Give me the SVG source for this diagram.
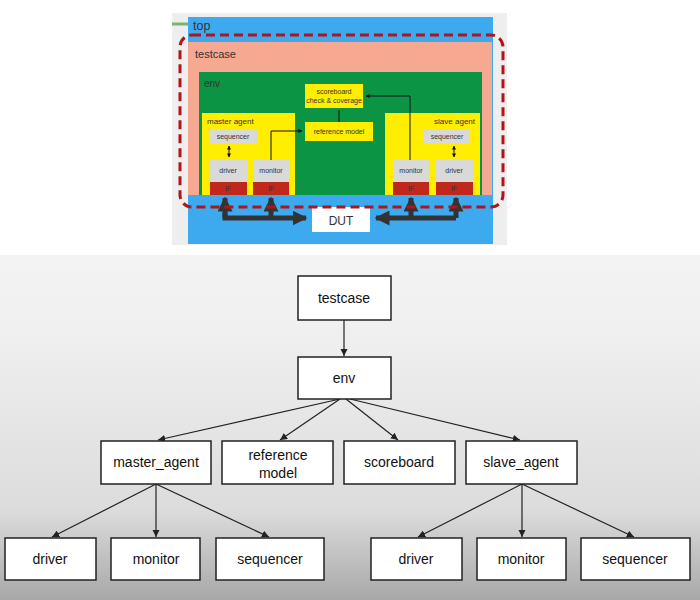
<svg xmlns="http://www.w3.org/2000/svg" width="700" height="600" viewBox="0 0 700 600">
<defs>
<linearGradient id="bg" x1="0" y1="0" x2="0" y2="1">
<stop offset="0" stop-color="#ffffff"/><stop offset="0.55" stop-color="#f0f0f0"/><stop offset="0.85" stop-color="#dcdcdc"/><stop offset="1" stop-color="#a8a8a8"/>
</linearGradient>
<marker id="ah" viewBox="0 0 10 10" refX="10" refY="5" markerWidth="6" markerHeight="6" orient="auto"><path d="M0,0 L10,5 L0,10 z" fill="#222"/></marker>
<marker id="tk" viewBox="0 0 10 10" refX="9" refY="5" markerWidth="3" markerHeight="3" orient="auto"><path d="M0,0 L10,5 L0,10 z" fill="#333"/></marker>
<marker id="sm" viewBox="0 0 10 10" refX="9" refY="5" markerWidth="4" markerHeight="4" orient="auto"><path d="M0,0 L10,5 L0,10 z" fill="#111"/></marker>
<marker id="sms" viewBox="0 0 10 10" refX="1" refY="5" markerWidth="4" markerHeight="4" orient="auto"><path d="M10,0 L0,5 L10,10 z" fill="#111"/></marker>
</defs>
<style>
.box{fill:#fff;stroke:#222;stroke-width:1.5}
.lbl{font-family:"Liberation Sans",Arial,sans-serif;font-size:14px;fill:#111;text-anchor:middle}
.c{stroke:#222;stroke-width:1.2;fill:none;marker-end:url(#ah)}
.g{fill:#d9d9d9}
.s{font-family:"Liberation Sans",Arial,sans-serif;font-size:7px;fill:#333;text-anchor:middle}
.t{font-family:"Liberation Sans",Arial,sans-serif;fill:#333}
.thk{stroke:#333;stroke-width:5;fill:none}
</style>
<rect width="700" height="600" fill="url(#bg)"/>
<rect x="0" y="0" width="700" height="255" fill="#fff"/>
<g id="screenshot">
<rect x="172" y="13" width="335" height="232" fill="#eeeeee"/>
<line x1="172" y1="24" x2="188" y2="24" stroke="#7ab56a" stroke-width="3"/>
<rect x="188" y="17" width="305" height="227" fill="#3daaf0"/>
<text x="193" y="30" class="t" font-size="12.5">top</text>
<rect x="188" y="42" width="304" height="153" fill="#f6a890"/>
<text x="195" y="58" class="t" font-size="11">testcase</text>
<rect x="199" y="72" width="283" height="123" fill="#0b9444"/>
<text x="204" y="87" class="t" font-size="10" fill="#063">env</text>
<rect x="202" y="113" width="93" height="82" fill="#ffee00"/>
<text x="207" y="124" class="t" font-size="8">master agent</text>
<rect x="385" y="113" width="95" height="82" fill="#ffee00"/>
<text x="475" y="124" class="t" font-size="8" text-anchor="end">slave agent</text>
<rect x="210" y="130" width="47" height="13" class="g"/><text x="233" y="139" class="s">sequencer</text>
<rect x="210" y="160" width="37" height="22" class="g"/><text x="228" y="173" class="s">driver</text>
<rect x="253" y="160" width="36" height="22" class="g"/><text x="271" y="173" class="s">monitor</text>
<rect x="210" y="182" width="37" height="13" fill="#c0281c"/><text x="228" y="191" class="s" fill="#fdd">IF</text>
<rect x="253" y="182" width="36" height="13" fill="#c0281c"/><text x="271" y="191" class="s" fill="#fdd">IF</text>
<rect x="424" y="130" width="46" height="13" class="g"/><text x="447" y="139" class="s">sequencer</text>
<rect x="393" y="160" width="36" height="22" class="g"/><text x="411" y="173" class="s">monitor</text>
<rect x="436" y="160" width="37" height="22" class="g"/><text x="454" y="173" class="s">driver</text>
<rect x="393" y="182" width="36" height="13" fill="#c0281c"/><text x="411" y="191" class="s" fill="#fdd">IF</text>
<rect x="436" y="182" width="37" height="13" fill="#c0281c"/><text x="454" y="191" class="s" fill="#fdd">IF</text>
<rect x="305" y="84" width="58" height="24" fill="#ffee00"/>
<text x="334" y="94" class="s" font-size="6">scoreboard</text><text x="334" y="103" class="s" font-size="5.5">check &amp; coverage</text>
<rect x="305" y="122" width="68" height="19" fill="#ffee00"/><text x="339" y="134" class="s">reference model</text>
<line x1="229" y1="146" x2="229" y2="157" stroke="#111" stroke-width="1" marker-end="url(#sm)" marker-start="url(#sms)"/>
<line x1="454" y1="146" x2="454" y2="157" stroke="#111" stroke-width="1" marker-end="url(#sm)" marker-start="url(#sms)"/>
<path d="M271,160 V131 H302" stroke="#111" stroke-width="1" fill="none" marker-end="url(#sm)"/>
<line x1="339" y1="122" x2="339" y2="110" stroke="#111" stroke-width="1"/>
<path d="M410,160 V96 H366" stroke="#111" stroke-width="1" fill="none" marker-end="url(#sm)"/>
<rect x="312" y="207" width="58" height="25" fill="#fff"/>
<text x="341" y="225" class="t" font-size="12" text-anchor="middle">DUT</text>
<path d="M225,213 V218 H306" class="thk" marker-end="url(#tk)"/>
<path d="M225,218 V198" class="thk" marker-end="url(#tk)"/>
<path d="M271,218 V198" class="thk" marker-end="url(#tk)"/>
<path d="M456,218 H376" class="thk" marker-end="url(#tk)"/>
<path d="M456,218 V198" class="thk" marker-end="url(#tk)"/>
<path d="M411,218 V198" class="thk" marker-end="url(#tk)"/>
<rect x="180" y="35" width="323" height="172" rx="12" fill="none" stroke="#b0151a" stroke-width="3" stroke-dasharray="9,5"/>
</g>
<g id="connectors">
<line x1="344" y1="320" x2="344" y2="356" class="c"/>
<line x1="340" y1="399" x2="158" y2="440" class="c"/>
<line x1="340" y1="399" x2="280" y2="440" class="c"/>
<line x1="346" y1="399" x2="398" y2="440" class="c"/>
<line x1="350" y1="399" x2="520" y2="440" class="c"/>
<line x1="156" y1="484" x2="52" y2="537" class="c"/>
<line x1="156" y1="484" x2="156" y2="537" class="c"/>
<line x1="156" y1="484" x2="269" y2="537" class="c"/>
<line x1="522" y1="484" x2="418" y2="537" class="c"/>
<line x1="522" y1="484" x2="522" y2="537" class="c"/>
<line x1="522" y1="484" x2="634" y2="537" class="c"/>
</g>
<g id="testcase"><rect x="298" y="276" width="93" height="44" class="box"/><text x="344" y="303" class="lbl">testcase</text></g>
<g id="env"><rect x="298" y="357" width="93" height="42" class="box"/><text x="344" y="383" class="lbl">env</text></g>
<g id="master_agent"><rect x="101" y="441" width="110" height="43" class="box"/><text x="156" y="467" class="lbl">master_agent</text></g>
<g id="reference_model"><rect x="222" y="441" width="111" height="43" class="box"/><text x="278" y="460" class="lbl">reference</text><text x="278" y="478" class="lbl">model</text></g>
<g id="scoreboard"><rect x="344" y="441" width="111" height="43" class="box"/><text x="399" y="467" class="lbl">scoreboard</text></g>
<g id="slave_agent"><rect x="466" y="441" width="111" height="43" class="box"/><text x="521" y="467" class="lbl">slave_agent</text></g>
<g id="m_driver"><rect x="5" y="538" width="91" height="42" class="box"/><text x="50" y="564" class="lbl">driver</text></g>
<g id="m_monitor"><rect x="111" y="538" width="89" height="42" class="box"/><text x="156" y="564" class="lbl">monitor</text></g>
<g id="m_sequencer"><rect x="216" y="538" width="108" height="42" class="box"/><text x="270" y="564" class="lbl">sequencer</text></g>
<g id="s_driver"><rect x="371" y="538" width="91" height="42" class="box"/><text x="416" y="564" class="lbl">driver</text></g>
<g id="s_monitor"><rect x="477" y="538" width="89" height="42" class="box"/><text x="521" y="564" class="lbl">monitor</text></g>
<g id="s_sequencer"><rect x="581" y="538" width="109" height="42" class="box"/><text x="635" y="564" class="lbl">sequencer</text></g>
</svg>
